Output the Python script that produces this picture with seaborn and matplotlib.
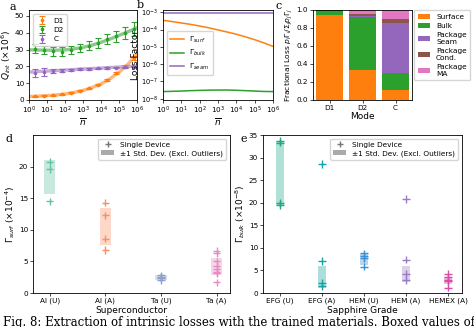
import numpy as np
import pandas as pd
import matplotlib
matplotlib.use("Agg")
import matplotlib.pyplot as plt
from matplotlib.lines import Line2D
from matplotlib.patches import Patch
import seaborn as sns

# ---------------- data ----------------
# panel a : intrinsic quality factor vs photon number
n_pts = [2.2, 7, 22, 70, 220, 700, 2200, 7000, 22000, 70000, 220000, 700000]
q_d1 = [2.3, 2.5, 2.9, 3.5, 4.3, 5.5, 7.0, 9.2, 12.0, 15.8, 20.0, 25.0]
q_d1_err = [0.3, 0.3, 0.3, 0.3, 0.3, 0.3, 0.3, 0.4, 0.5, 0.6, 0.8, 1.2]
q_d2 = [30.5, 29.6, 29.0, 28.8, 29.8, 30.8, 32.2, 34.0, 36.0, 37.8, 40.0, 42.3]
q_d2_err = [2.5, 2.3, 2.8, 2.5, 2.5, 2.5, 2.7, 2.8, 3.0, 3.2, 3.5, 4.0]
q_c = [16.2, 16.8, 17.2, 17.4, 17.8, 18.2, 18.4, 18.8, 19.0, 19.2, 19.6, 19.8]
q_c_err = [2.5, 2.3, 1.2, 1.0, 0.8, 0.6, 0.5, 0.4, 0.4, 0.3, 0.3, 0.3]

n_fit = [1, 3.16, 10, 31.6, 100, 316, 1000, 3160, 10000, 31600, 100000, 316000, 1000000]
fit_d1 = [2.1, 2.3, 2.6, 3.0, 3.6, 4.5, 5.7, 7.4, 9.6, 12.6, 16.5, 21.3, 27.5]
fit_d2 = [29.8, 29.7, 29.6, 29.6, 29.8, 30.4, 31.3, 32.6, 34.3, 36.2, 38.4, 40.6, 43.0]
fit_c = [16.6, 16.9, 17.2, 17.5, 17.8, 18.1, 18.4, 18.7, 19.0, 19.3, 19.6, 19.9, 20.1]

# panel b : loss factors
g_surf = [3.4e-4, 2.9e-4, 2.4e-4, 2.0e-4, 1.6e-4, 1.26e-4, 9.5e-5, 7.2e-5,
          5.4e-5, 3.8e-5, 2.6e-5, 1.7e-5, 1.07e-5]
g_bulk = [2.6e-8, 2.7e-8, 2.8e-8, 2.95e-8, 3.05e-8, 3.15e-8, 3.2e-8, 3.2e-8,
          3.1e-8, 2.95e-8, 2.8e-8, 2.65e-8, 2.6e-8]
g_seam = [8.8e-4] * 13

# panel c : fractional loss
modes = ["D1", "D2", "C"]
mechanisms = ["Surface", "Bulk", "Package\nSeam", "Package\nCond.", "Package\nMA"]
frac_surface = [0.94, 0.33, 0.11]
frac_bulk = [0.06, 0.595, 0.195]
frac_seam = [0.0, 0.005, 0.555]
frac_cond = [0.0, 0.025, 0.045]
frac_ma = [0.0, 0.045, 0.095]

# panel d : surface loss by superconductor
sc_cats = ["Al (U)", "Al (A)", "Ta (U)", "Ta (A)"]
sc_points = [[20.8, 19.6, 14.5],
             [14.3, 12.3, 8.6, 6.8],
             [2.8, 2.6, 2.4, 2.0],
             [6.7, 6.3, 5.0, 4.3, 3.8, 3.3, 3.1, 1.7]]
sc_lo = [15.6, 7.6, 2.1, 2.9]
sc_hi = [21.1, 13.4, 2.9, 5.5]

# panel e : bulk loss by sapphire grade
sa_cats = ["EFG (U)", "EFG (A)", "HEM (U)", "HEM (A)", "HEMEX (A)"]
sa_points = [[33.7, 33.3, 19.9, 19.5],
             [28.6, 7.1, 2.2, 1.5],
             [8.8, 8.1, 7.7, 5.8],
             [20.8, 7.4, 4.2, 2.9],
             [4.2, 3.5, 2.9, 2.6, 1.2]]
sa_lo = [19.5, 1.2, 6.3, 2.4, 2.1]
sa_hi = [33.6, 6.0, 8.7, 6.0, 3.6]

# ---------------- style ----------------
plt.rcParams.update({
    "font.family": ["DejaVu Sans"],
    "font.size": 5.5,
    "axes.labelsize": 6.5,
    "xtick.labelsize": 5.2,
    "ytick.labelsize": 5.2,
    "legend.fontsize": 5.3,
    "axes.linewidth": 0.6,
    "xtick.major.width": 0.5,
    "ytick.major.width": 0.5,
    "xtick.major.size": 2,
    "ytick.major.size": 2,
    "xtick.minor.size": 0,
    "ytick.minor.size": 0,
    "xtick.major.pad": 1.5,
    "ytick.major.pad": 1.5,
    "axes.labelpad": 1.5,
})

W, H = 474, 327
fig = plt.figure(figsize=(W / 100, H / 100), dpi=100)


def add_ax(l, t, r, b):
    return fig.add_axes([l / W, 1 - b / H, (r - l) / W, (b - t) / H])


c_or, c_gr, c_pu, c_br, c_pk = "#ff7f0e", "#2ca02c", "#9467bd", "#8c564b", "#e377c2"

# ---------------- panel a ----------------
ax = add_ax(29, 10, 137, 100)
for fit, col in [(fit_d1, c_or), (fit_d2, c_gr), (fit_c, c_pu)]:
    sns.lineplot(x=n_fit, y=fit, ax=ax, color=col, lw=2.4, alpha=0.55)
for q, e, col, lab in [(q_d1, q_d1_err, c_or, "D1"), (q_d2, q_d2_err, c_gr, "D2"),
                       (q_c, q_c_err, c_pu, "C")]:
    ax.errorbar(n_pts, q, yerr=e, fmt="o", ms=1.6, color=col, elinewidth=0.8,
                capsize=2, capthick=0.8, label=lab)
ax.set_xscale("log")
ax.set_xlim(1, 1e6)
ax.set_ylim(0, 53.5)
ax.set_yticks([0, 10, 20, 30, 40, 50])
ax.set_xticks([1, 10, 100, 1e3, 1e4, 1e5, 1e6])
ax.set_xlabel(r"$\overline{n}$", labelpad=0)
ax.set_ylabel(r"$Q_{int}$ $(\times10^6)$")
ax.legend(loc="upper left", frameon=True, handlelength=1.5, borderpad=0.5,
          labelspacing=0.45, fancybox=True)

# ---------------- panel b ----------------
ax = add_ax(163, 10, 273, 100)
sns.lineplot(x=n_fit, y=g_surf, ax=ax, color=c_or, lw=1.1, label=r"$\Gamma_{surf}$")
sns.lineplot(x=n_fit, y=g_bulk, ax=ax, color=c_gr, lw=1.1, label=r"$\Gamma_{bulk}$")
sns.lineplot(x=n_fit, y=g_seam, ax=ax, color=c_pu, lw=1.1, label=r"$\Gamma_{seam}$")
ax.set_xscale("log")
ax.set_yscale("log")
ax.set_xlim(1, 1e6)
ax.set_ylim(8.5e-9, 1.35e-3)
ax.set_xticks([1, 10, 100, 1e3, 1e4, 1e5, 1e6])
ax.set_yticks([1e-8, 1e-7, 1e-6, 1e-5, 1e-4, 1e-3])
ax.minorticks_off()
ax.tick_params(axis="y", labelsize=4.8)
ax.set_xlabel(r"$\overline{n}$", labelpad=0)
ax.set_ylabel("Loss Factor", labelpad=1)
ax.legend(loc="center left", bbox_to_anchor=(0.0, 0.52), handlelength=1.8,
          borderpad=0.5, labelspacing=0.45)

# ---------------- panel c ----------------
ax = add_ax(313, 10, 412, 100)
bottom = np.zeros(len(modes))
for vals, col, lab in zip([frac_surface, frac_bulk, frac_seam, frac_cond, frac_ma],
                          [c_or, c_gr, c_pu, c_br, c_pk], mechanisms):
    ax.bar(modes, vals, bottom=bottom, color=col, width=0.8, label=lab)
    bottom = bottom + np.array(vals)
ax.set_ylim(0, 1.0)
ax.set_xlim(-0.5, 2.5)
ax.set_yticks([0, 0.2, 0.4, 0.6, 0.8, 1.0])
ax.set_yticklabels(["0.0", "0.2", "0.4", "0.6", "0.8", "1.0"])
ax.set_xlabel("Mode", labelpad=1)
ax.set_ylabel(r"Fractional Loss $p_i\Gamma_i/\Sigma_j p_j\Gamma_j$", fontsize=5.4,
              labelpad=1)
ax.legend(loc="upper left", bbox_to_anchor=(1.02, 1.0), borderaxespad=0,
          handlelength=1.7, labelspacing=0.4, borderpad=0.5)

# ---------------- panels d, e ----------------
def box_panel(ax, cats, points, lo, hi, colors, ymax, yticks, ylabel, xlabel, xlim):
    rows = []
    for i, pts in enumerate(points):
        for v in pts:
            rows.append({"pos": i, "val": v, "cat": cats[i]})
    df = pd.DataFrame(rows)
    ax.bar(range(len(cats)), np.array(hi) - np.array(lo), bottom=lo, width=0.2,
           color=colors, alpha=0.35, linewidth=0)
    sns.scatterplot(data=df, x="pos", y="val", hue="cat", palette=colors,
                    marker="+", s=28, linewidth=1.0, ax=ax, legend=False)
    ax.set_xticks(range(len(cats)))
    ax.set_xticklabels(cats)
    ax.set_xlim(*xlim)
    ax.set_ylim(0, ymax)
    ax.set_yticks(yticks)
    ax.set_ylabel(ylabel)
    ax.set_xlabel(xlabel, labelpad=1.5)
    handles = [Line2D([], [], marker="+", ls="", color="#777777", ms=5, mew=1.0),
               Patch(facecolor="#aaaaaa", edgecolor="none")]
    ax.legend(handles, ["Single Device", "\u00b11 Std. Dev. (Excl. Outliers)"],
              loc="upper right", handlelength=1.8, borderpad=0.4, labelspacing=0.3,
              fontsize=5.3)


ax = add_ax(33, 135, 230, 293)
box_panel(ax, sc_cats, sc_points, sc_lo, sc_hi,
          ["#66c2a5", "#fc8d62", "#8da0cb", "#e78ac3"], 25, [0, 5, 10, 15, 20],
          r"$\Gamma_{surf}$ $(\times10^{-4})$", "Superconductor", (-0.3, 3.24))

ax = add_ax(263, 135, 462, 293)
box_panel(ax, sa_cats, sa_points, sa_lo, sa_hi,
          ["#22a884", "#16a3a3", "#3b8fd3", "#9a7cc4", "#d84ea6"], 35,
          [0, 5, 10, 15, 20, 25, 30, 35],
          r"$\Gamma_{bulk}$ $(\times10^{-8})$", "Sapphire Grade", (-0.4, 4.33))

# ---------------- panel letters & caption ----------------
for lab, x, y in [("a", 10, 2), ("b", 137, 0), ("c", 276, 1), ("d", 6, 134), ("e", 240, 134)]:
    fig.text(x / W, 1 - y / H, lab, family="DejaVu Serif", fontsize=8, va="top")
fig.text(3 / W, 1 - 316 / H,
         "Fig. 8: Extraction of intrinsic losses with the trained materials. Boxed values of intrinsic",
         family="DejaVu Serif", fontsize=8.5, va="top")

fig.savefig("out.png", dpi=100)
